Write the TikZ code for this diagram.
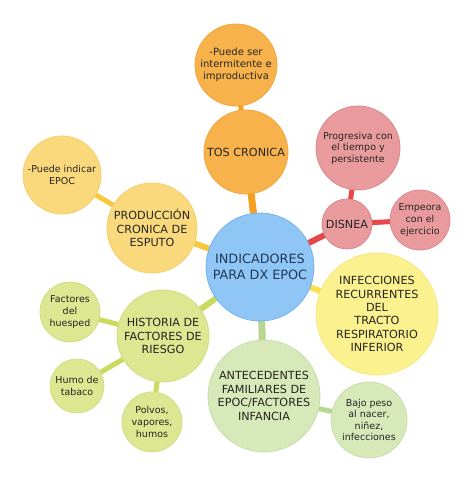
\documentclass[tikz,border=0pt]{standalone}
\usepackage{fontspec}
\setmainfont{DejaVu Sans}
\usepackage{xcolor}
\usepackage{tikz}
\usetikzlibrary{backgrounds}
\definecolor{cenfill}{HTML}{8FC6F6}
\definecolor{cenline}{HTML}{74B2EC}
\definecolor{cental}{HTML}{1F3A58}
\definecolor{tosfill}{HTML}{F8B24C}
\definecolor{tosline}{HTML}{F2A53A}
\definecolor{toslink}{HTML}{F5A020}
\definecolor{disfill}{HTML}{E99A9C}
\definecolor{disline}{HTML}{DC8890}
\definecolor{dislink}{HTML}{E8474A}
\definecolor{prodfill}{HTML}{FAD97D}
\definecolor{prodline}{HTML}{F4CF6E}
\definecolor{prodlink}{HTML}{F6C93C}
\definecolor{inffill}{HTML}{FBF18F}
\definecolor{infline}{HTML}{F4E985}
\definecolor{inflink}{HTML}{F8E04E}
\definecolor{histfill}{HTML}{DDE690}
\definecolor{histline}{HTML}{D2DD86}
\definecolor{histlink}{HTML}{C9DA5C}
\definecolor{antfill}{HTML}{D7E8B9}
\definecolor{antline}{HTML}{CADDAC}
\definecolor{antlink}{HTML}{B9D691}
\definecolor{txt}{HTML}{262622}
\tikzset{%
  bub/.style={circle,inner sep=0pt,align=center,text=txt,line width=0.8pt,minimum size=#1},
  bigtxt/.style={font=\fontsize{11.2}{13.6}\selectfont},
  smalltxt/.style={font=\fontsize{9.5}{11.6}\selectfont},
  boxcen/.style={bub=#1,fill=cenfill,draw=cenline,text=cental,font=\fontsize{12.8}{15.5}\selectfont},
  boxtos/.style={bub=#1,fill=tosfill,draw=tosline},
  boxdis/.style={bub=#1,fill=disfill,draw=disline},
  boxprod/.style={bub=#1,fill=prodfill,draw=prodline},
  boxinf/.style={bub=#1,fill=inffill,draw=infline},
  boxhist/.style={bub=#1,fill=histfill,draw=histline},
  boxant/.style={bub=#1,fill=antfill,draw=antline},
  link/.style={line width=#1}
}
\begin{document}
\begin{tikzpicture}[x=1pt,y=-1pt]
  \useasboundingbox (0,0) rectangle (474,483);
  % centre
  \node[boxcen=108pt](cen) at (260,267){INDICADORES\\PARA DX EPOC};
  % tos
  \node[boxtos=84pt,bigtxt](tos) at (246,152){TOS CRONICA};
  \node[boxtos=82pt,smalltxt,font=\fontsize{10}{12}\selectfont](tossub) at (236,65){-Puede ser\\intermitente e\\improductiva};
  % disnea
  \node[boxdis=50pt,bigtxt](dis) at (347,224){DISNEA};
  \node[boxdis=84pt,smalltxt](dissuba) at (358,148){Progresiva con\\el tiempo y\\persistente};
  \node[boxdis=60pt,smalltxt](dissubb) at (420,220){Empeora\\con el\\ejercicio};
  % esputo
  \node[boxprod=90pt,bigtxt](prod) at (152,228){PRODUCCIÓN\\CRONICA DE\\ESPUTO};
  \node[boxprod=78pt,smalltxt](prodsub) at (62,175){-Puede indicar\\EPOC};
  % infecciones
  \node[boxinf=122pt,bigtxt,font=\fontsize{11.2}{13.3}\selectfont](inf) at (377,314){INFECCIONES\\RECURRENTES\\DEL\\TRACTO\\RESPIRATORIO\\INFERIOR};
  % factores de riesgo
  \node[boxhist=92pt,bigtxt](hist) at (163,336){HISTORIA DE\\FACTORES DE\\RIESGO};
  \node[boxhist=60pt,smalltxt](hista) at (70,312){Factores\\del\\huesped};
  \node[boxhist=54pt,smalltxt](histb) at (77,386){Humo de\\tabaco};
  \node[boxhist=60pt,smalltxt](histc) at (152,422){Polvos,\\vapores,\\humos};
  % antecedentes
  \node[boxant=112pt,bigtxt](ant) at (264,396){ANTECEDENTES\\FAMILIARES DE\\EPOC/FACTORES\\INFANCIA};
  \node[boxant=76pt,smalltxt](antsub) at (369,420){Bajo peso\\al nacer,\\niñez,\\infecciones};
  % links
  \begin{scope}[on background layer]
    \draw[link=7pt,toslink] (cen.center) -- (tos.center);
    \draw[link=5pt,toslink] (tos.center) -- (tossub.center);
    \draw[link=6pt,dislink] (cen.center) -- (dis.center);
    \draw[link=5pt,dislink] (dis.center) -- (dissuba.center);
    \draw[link=5pt,dislink] (dis.center) -- (dissubb.center);
    \draw[link=6pt,prodlink] (cen.center) -- (prod.center);
    \draw[link=5pt,prodlink] (prod.center) -- (prodsub.center);
    \draw[link=6pt,inflink] (cen.center) -- (inf.center);
    \draw[link=6pt,histlink] (cen.center) -- (hist.center);
    \draw[link=5pt,histlink] (hist.center) -- (hista.center);
    \draw[link=5pt,histlink] (hist.center) -- (histb.center);
    \draw[link=5pt,histlink] (hist.center) -- (histc.center);
    \draw[link=7pt,antlink] (cen.center) -- (ant.center);
    \draw[link=5pt,antlink] (ant.center) -- (antsub.center);
  \end{scope}
\end{tikzpicture}
\end{document}
